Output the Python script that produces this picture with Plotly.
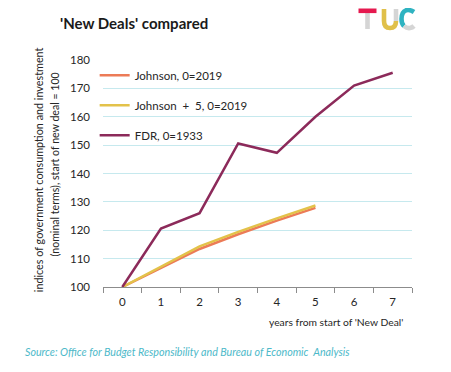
import plotly.graph_objects as go

years = [0, 1, 2, 3, 4, 5, 6, 7]
year_labels = ["0", "1", "2", "3", "4", "5", "6", "7"]
johnson = [100, 106.6, 113.4, 118.6, 123.4, 127.9]
johnson5 = [100, 107.3, 114.3, 119.4, 124.2, 128.7]
fdr = [100, 120.6, 126.0, 150.6, 147.3, 160.0, 171.0, 175.5]
y_ticks = [100, 110, 120, 130, 140, 150, 160, 170, 180]

FONT = "Lato, 'Open Sans', sans-serif"
TXT = "#262626"

fig = go.Figure()
series = [
    ("Johnson, 0=2019", johnson, "#EC7B57"),
    ("Johnson  +  5, 0=2019", johnson5, "#E3C24A"),
    ("FDR, 0=1933", fdr, "#8C2A5A"),
]
for i, (name, vals, col) in enumerate(series):
    fig.add_trace(go.Scatter(
        x=year_labels[:len(vals)], y=vals, mode="lines", name=name,
        line=dict(color=col, width=2.5), legendgroup=f"g{i}",
    ))

# page body adds an 8px offset, so the figure is 8px smaller and margins shifted
fig.update_layout(
    width=443, height=364,
    margin=dict(l=95, r=39, t=52, b=85, autoexpand=False),
    paper_bgcolor="white", plot_bgcolor="white",
    font=dict(family=FONT, size=11, color=TXT),
    showlegend=True,
    legend=dict(x=-0.027, y=0.997, xanchor="left", yanchor="top",
                bgcolor="rgba(0,0,0,0)", traceorder="grouped",
                tracegroupgap=11, itemwidth=30,
                font=dict(family=FONT, size=11.5, color=TXT)),
    xaxis=dict(type="category", categoryorder="array", categoryarray=year_labels,
               range=[-0.5, 7.5], showgrid=False, showline=True, automargin=False,
               linecolor="#8c8c8c", linewidth=1.3, ticks="outside",
               tickson="boundaries", ticklen=5, tickcolor="#8c8c8c",
               ticklabelstandoff=4,
               tickfont=dict(size=11.5, color=TXT), zeroline=False),
    yaxis=dict(range=[100, 180], tickvals=y_ticks, showgrid=True, automargin=False,
               gridcolor="#C6E9EE", gridwidth=1.2, zeroline=False,
               showline=False, ticks="", ticklabelstandoff=12,
               tickfont=dict(size=11.5, color=TXT)),
)

fig.add_annotation(text="indices of government consumption and investment",
                   xref="paper", yref="paper", x=-0.210, y=0.515, textangle=-90,
                   xanchor="center", yanchor="middle", showarrow=False,
                   font=dict(size=10.8, color=TXT, family=FONT))
fig.add_annotation(text="(nominal terms), start of new deal = 100",
                   xref="paper", yref="paper", x=-0.155, y=0.54, textangle=-90,
                   xanchor="center", yanchor="middle", showarrow=False,
                   font=dict(size=10.6, color=TXT, family=FONT))
fig.add_annotation(text="<b>'New Deals' compared</b>", xref="paper", yref="paper",
                   x=-0.147, y=1.163, xanchor="left", yanchor="middle", showarrow=False,
                   font=dict(size=15, color="#1a1a1a", family=FONT))
fig.add_annotation(text="years from start of 'New Deal'", xref="paper", yref="paper",
                   x=0.977, y=-0.153, xanchor="right", yanchor="middle", showarrow=False,
                   font=dict(size=10.3, color=TXT, family=FONT))
fig.add_annotation(text="<i>Source: Office for Budget Responsibility and Bureau of Economic  Analysis</i>",
                   xref="paper", yref="paper", x=-0.259, y=-0.286, xanchor="left",
                   yanchor="middle", showarrow=False,
                   font=dict(size=10.7, color="#4DB9C9", family=FONT))

# TUC logo (coordinates in reference pixels, converted to paper)
grey = "#D5D5D5"
W = 4.6
shapes = [
    dict(type="line", x0=367.5, x1=367.5, y0=11, y1=29, line=dict(color=grey, width=W)),
    dict(type="line", x0=358.5, x1=376.5, y0=10.8, y1=10.8, line=dict(color="#E5194F", width=W)),
    dict(type="path", path="M 396 9 L 396 21", line=dict(color=grey, width=W)),
    dict(type="path", path="M 384 9 L 384 21 Q 384 28 390 28 Q 396 28 396 21", line=dict(color="#E0C04A", width=W)),
    dict(type="path", path="M 414 12 Q 410 9.3 406 10.3 Q 401.5 12 401.5 19 Q 401.5 24 404 26", line=dict(color="#2FB3C1", width=W)),
    dict(type="path", path="M 404 26 Q 407 28.5 410 28 Q 412.5 27.5 414 26", line=dict(color=grey, width=W)),
]


def px(v):
    return (v - 103) / 309


def py(v):
    return (287 - v) / 227


for s in shapes:
    s.update(xref="paper", yref="paper")
    if s["type"] == "line":
        s["x0"], s["x1"] = px(s["x0"]), px(s["x1"])
        s["y0"], s["y1"] = py(s["y0"]), py(s["y1"])
    else:
        toks = s["path"].split()
        out = []
        i = 0
        while i < len(toks):
            t = toks[i]
            if t in ("M", "L", "Q"):
                out.append(t)
                i += 1
            else:
                out.append(f"{px(float(toks[i])):.5f}")
                out.append(f"{py(float(toks[i+1])):.5f}")
                i += 2
        s["path"] = " ".join(out)
    fig.add_shape(**s)

fig.write_html("out.html")
